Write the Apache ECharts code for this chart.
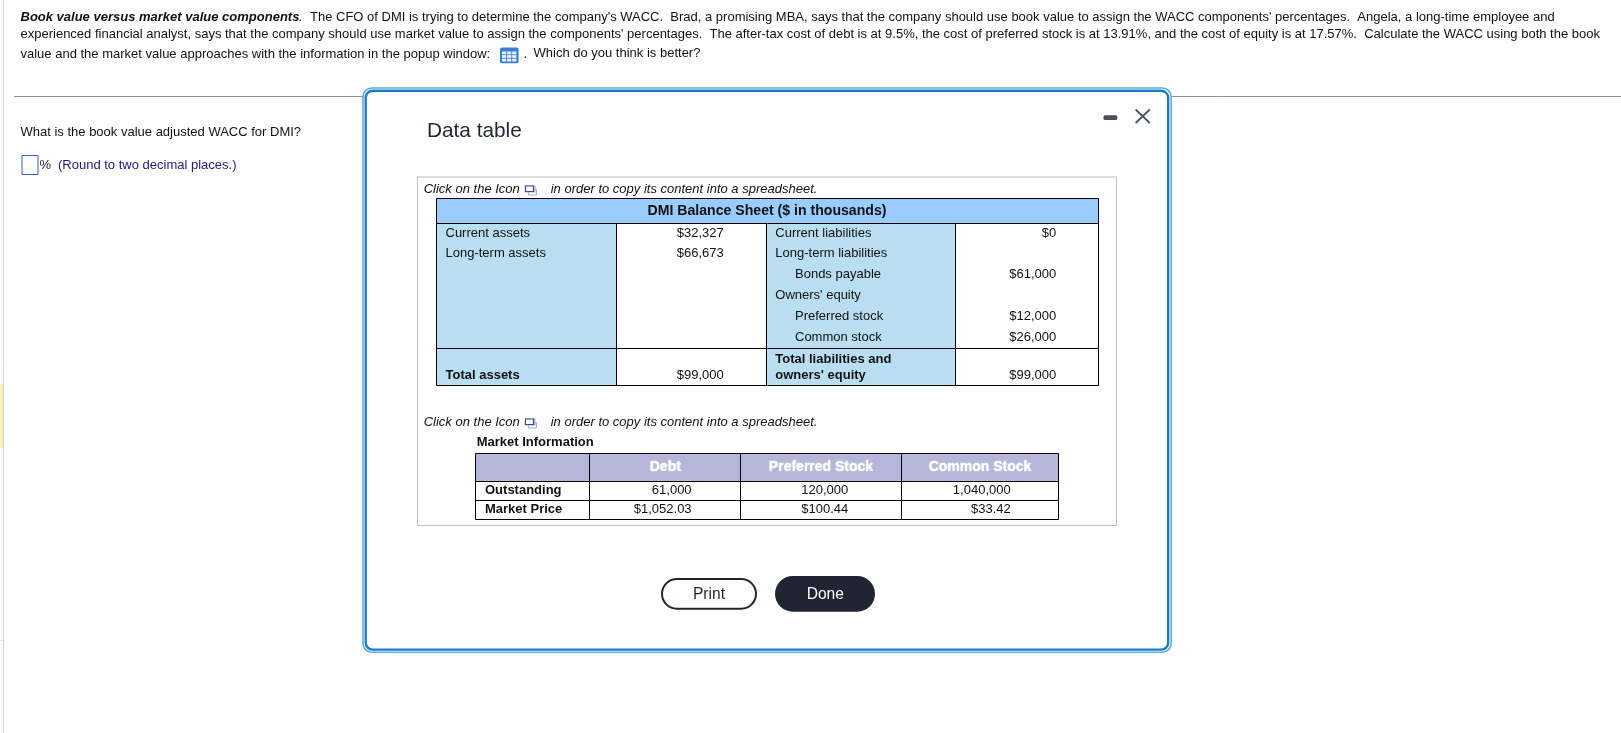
<!DOCTYPE html>
<html><head><meta charset="utf-8">
<style>html,body{margin:0;padding:0;background:#fff;overflow:hidden}#c{width:1621px;height:733px}</style>
<script src="https://cdn.jsdelivr.net/npm/echarts@6/dist/echarts.min.js"></script>
</head><body><div id="c"></div>
<script>
// ---- content ----
const introLead = "Book value versus market value components";
const introLine1 = "The CFO of DMI is trying to determine the company's WACC.  Brad, a promising MBA, says that the company should use book value to assign the WACC components' percentages.  Angela, a long-time employee and";
const introLine2 = "experienced financial analyst, says that the company should use market value to assign the components' percentages.  The after-tax cost of debt is at 9.5%, the cost of preferred stock is at 13.91%, and the cost of equity is at 17.57%.  Calculate the WACC using both the book";
const introLine3a = "value and the market value approaches with the information in the popup window:";
const introLine3b = "Which do you think is better?";
const question = "What is the book value adjusted WACC for DMI?";
const roundNote = "(Round to two decimal places.)";
const modalTitle = "Data table";
const copyA = "Click on the Icon";
const copyB = "in order to copy its content into a spreadsheet.";
const balanceTitle = "DMI Balance Sheet ($ in thousands)";
const assetLabels = ["Current assets", "Long-term assets"];
const assetValues = ["$32,327", "$66,673"];
const liabilityLabels = ["Current liabilities", "Long-term liabilities", "Bonds payable", "Owners' equity", "Preferred stock", "Common stock"];
const liabilityIndent = [0, 0, 1, 0, 1, 1];
const liabilityValues = ["$0", "", "$61,000", "", "$12,000", "$26,000"];
const totalAssetsLabel = "Total assets";
const totalAssetsValue = "$99,000";
const totalLiabLabels = ["Total liabilities and", "owners' equity"];
const totalLiabValue = "$99,000";
const marketTitle = "Market Information";
const marketColumns = ["Debt", "Preferred Stock", "Common Stock"];
const outstandingLabel = "Outstanding";
const outstandingValues = ["61,000", "120,000", "1,040,000"];
const priceLabel = "Market Price";
const priceValues = ["$1,052.03", "$100.44", "$33.42"];
const buttons = ["Print", "Done"];

// ---- drawing ----
const FF = '"Liberation Sans", Arial, sans-serif';
const els = [];
let z = 1;
function T(text, x, y, o) {
  o = o || {};
  els.push({ type: 'text', x: x, y: y, z: z++, style: {
    text: text, fill: o.c || '#111', align: o.a || 'left', verticalAlign: 'middle',
    font: (o.st || '') + ' ' + (o.w || '') + ' ' + (o.s || 13) + 'px ' + FF,
    textShadowColor: o.sh, textShadowBlur: o.sh ? 1.5 : 0 } });
}
function R(x0, y0, x1, y1, o) {
  o = o || {};
  els.push({ type: 'rect', z: z++, shape: { x: x0, y: y0, width: x1 - x0, height: y1 - y0, r: o.r || 0 },
    style: { fill: o.f || 'transparent', stroke: o.st || null, lineWidth: o.lw || 0 } });
}
function L(x0, y0, x1, y1, c, lw) {
  els.push({ type: 'line', z: z++, shape: { x1: x0, y1: y0, x2: x1, y2: y1 }, style: { stroke: c, lineWidth: lw || 1 } });
}
const INK = '#000';

// page chrome
R(0, 384, 3, 448, { f: '#fdeec0' });
L(3.5, 0, 3.5, 733, '#d2d2de', 1);
L(0, 640.5, 3, 640.5, '#e6e6ee', 1);
L(14, 96.5, 1621, 96.5, '#8a90a8', 1);

// intro
T(introLead, 20.5, 17.5, { st: 'italic', w: 'bold' });
T('.', 299, 17.5, { st: 'italic' });
T(introLine1, 310, 17.5);
T(introLine2, 20.5, 34);
T(introLine3a, 20.5, 54.5);
T('.', 523.5, 54.5);
T(introLine3b, 533.5, 53.5);
// grid icon
R(500, 47.5, 518.6, 63.2, { f: '#3b7ddd', r: 2 });
[0, 1, 2].forEach(i => [0, 1, 2].forEach(j => R(502 + i * 5.1, 51.5 + j * 3.6, 506.2 + i * 5.1, 54.3 + j * 3.6, { f: '#eaf1fc' })));

// answer area
T(question, 20.5, 132.5);
R(22, 155.5, 38, 174.5, { st: '#3a5fc4', lw: 1 });
T('%', 39.5, 165, { c: '#222' });
T(roundNote, 58, 165, { c: '#1a1a80' });

// modal
R(363, 88, 1171.2, 652.2, { f: '#fff', st: '#58aee8', lw: 1.6, r: 9 });
R(365.7, 90.7, 1168.2, 649.6, { f: '#fff', st: '#1a7ccb', lw: 2.4, r: 7 });
T(modalTitle, 427, 131, { s: 20.8, c: '#1f2533' });
R(1103.5, 115.3, 1117.3, 120, { f: '#4a4f5a', r: 1.5 });
L(1135.6, 109.5, 1149.8, 123, '#4a5564', 1.8);
L(1149.8, 109.5, 1135.6, 123, '#4a5564', 1.8);

// copy lines
function copyLine(y) {
  T(copyA, 423.7, y, { st: 'italic' });
  R(525.5, y - 3.5, 535, y + 2.5, { st: '#a9aedb', lw: 1.2 });
  R(528.5, y + 0, 536.5, y + 5.5, { st: '#a9aedb', lw: 1 });
  R(525.5, y - 3.5, 533.5, y + 2, { st: '#3c4a86', lw: 1.2, f: '#fff' });
  T(copyB, 550.7, y, { st: 'italic' });
}
R(417.5, 177, 1116.5, 525.5, { st: '#bdbdbd', lw: 1, f: '#fff' });
copyLine(189.5);
copyLine(422.5);

// balance sheet
const bx = [436.5, 616.5, 766.5, 955.5, 1098.5];
const by = [198.5, 223.5, 348.5, 385.5];
R(bx[0], by[0], bx[4], by[1], { f: '#99ccff' });
R(bx[0], by[1], bx[1], by[3], { f: '#b9def1' });
R(bx[2], by[1], bx[3], by[3], { f: '#b9def1' });
by.forEach(y => L(bx[0], y, bx[4], y, INK, 1));
L(bx[0], by[0], bx[0], by[3], INK, 1);
L(bx[4], by[0], bx[4], by[3], INK, 1);
[bx[1], bx[2], bx[3]].forEach(x => L(x, by[1], x, by[3], INK, 1));
T(balanceTitle, 767, 211, { w: 'bold', s: 14.1, a: 'center' });
const rowY = [233.5, 253.5, 274.5, 295.5, 316.5, 337.5];
assetLabels.forEach((s, i) => T(s, 445.5, rowY[i]));
assetValues.forEach((s, i) => T(s, 723.7, rowY[i], { a: 'right' }));
liabilityLabels.forEach((s, i) => T(s, liabilityIndent[i] ? 795 : 775.3, rowY[i]));
liabilityValues.forEach((s, i) => { if (s) T(s, 1056.3, rowY[i], { a: 'right' }); });
T(totalAssetsLabel, 445.5, 375.5, { w: 'bold' });
T(totalAssetsValue, 723.7, 375.5, { a: 'right' });
T(totalLiabLabels[0], 775.3, 359.5, { w: 'bold' });
T(totalLiabLabels[1], 775.3, 375.5, { w: 'bold' });
T(totalLiabValue, 1056.3, 375.5, { a: 'right' });

// market info
T(marketTitle, 476.7, 442.5, { w: 'bold' });
const mx = [475.5, 589.5, 740.5, 901.5, 1058.5];
const my = [453.5, 481.5, 500.5, 519.5];
R(mx[0], my[0], mx[4], my[1], { f: '#b6b6da' });
my.forEach(y => L(mx[0], y, mx[4], y, INK, 1));
mx.forEach(x => L(x, my[0], x, my[3], INK, 1));
const mcx = [665.3, 821, 980];
const mrx = [691.6, 848.3, 1010.7];
marketColumns.forEach((s, i) => T(s, mcx[i], 467, { w: 'bold', s: 14, a: 'center', c: '#fff', sh: '#fff' }));
T(outstandingLabel, 485, 490.5, { w: 'bold' });
T(priceLabel, 485, 509.5, { w: 'bold' });
outstandingValues.forEach((s, i) => T(s, mrx[i], 490.5, { a: 'right' }));
priceValues.forEach((s, i) => T(s, mrx[i], 509.5, { a: 'right' }));

// buttons
R(662, 579, 756, 608.7, { f: '#fff', st: '#1f2533', lw: 2, r: 15 });
T(buttons[0], 709, 594.5, { s: 15.6, a: 'center', c: '#1f2533' });
R(775, 576, 875, 611.7, { f: '#1f2533', r: 17.8 });
T(buttons[1], 825.3, 594.5, { s: 15.6, a: 'center', c: '#fff' });

const chart = echarts.init(document.getElementById('c'), null, { width: 1621, height: 733 });
chart.setOption({ animation: false, backgroundColor: '#fff', graphic: { elements: els } });
</script></body></html>
